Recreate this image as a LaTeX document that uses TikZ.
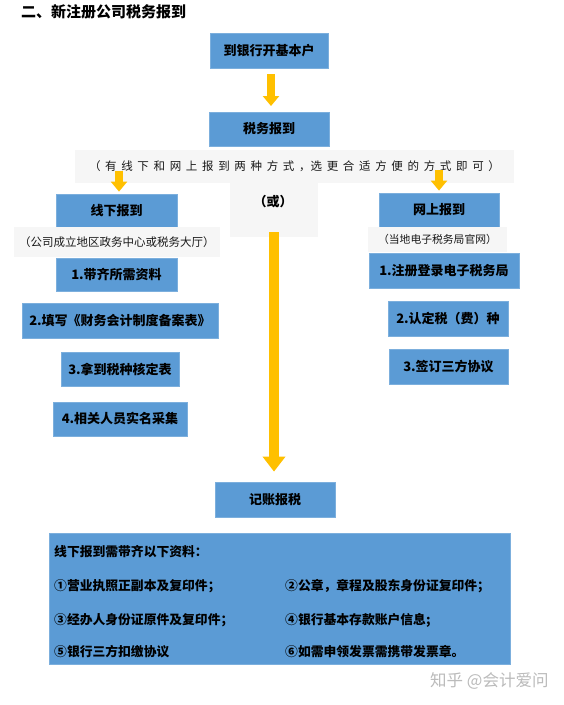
\documentclass[tikz,border=0pt]{standalone}
\usepackage{fontspec}
\setmainfont{Noto Sans CJK SC}
\usetikzlibrary{arrows.meta,calc}
\definecolor{boxblue}{HTML}{5B9BD5}
\definecolor{arrowgold}{HTML}{FFC000}
\definecolor{bannergrey}{HTML}{F6F6F6}
\definecolor{wmgrey}{HTML}{BBBBBB}
\begin{document}
\begin{tikzpicture}[x=1pt,y=-1pt,
  bluebox/.style={fill=boxblue, draw=boxblue!80!white, line width=0.8pt, inner sep=0pt,
    font=\bfseries\fontsize{13}{13}\selectfont, text=black},
  banner/.style={fill=bannergrey, inner sep=0pt, font=\fontsize{11.5}{11.5}\selectfont, text=black!90},
  smallarrow/.style={draw=arrowgold, line width=8pt, -{Triangle[width=16pt,length=10pt]}},
  bigarrow/.style={draw=arrowgold, line width=10pt, -{Triangle[width=22pt,length=15pt]}},
  listtext/.style={anchor=west, inner sep=0pt, font=\bfseries\fontsize{12.8}{12.8}\selectfont, text=black},
]
\fill[white] (0,0) rectangle (564,705);
\useasboundingbox (0,0) rectangle (564,705);

% title
\node[anchor=west, inner sep=0pt, font=\bfseries\fontsize{15}{15}\selectfont] (title) at (21,12) {二、新注册公司税务报到};

% main chain
\node[bluebox, minimum width=118pt, minimum height=35pt] (b1) at (269,50.5) {到银行开基本户};
\node[bluebox, minimum width=120pt, minimum height=34pt] (b2) at (269,129) {税务报到};

% banners
\node[banner, minimum width=439pt, minimum height=33pt] (ban1) at (294.5,166.5)
  {\makebox[411pt][s]{（ 有 线 下 和 网 上 报 到 两 种 方 式 ，选 更 合 适 方 便 的 方 式 即 可 ）}};
\node[banner, minimum width=88pt, minimum height=54pt] (banor) at (274,210) {};
\node[inner sep=0pt, font=\bfseries\fontsize{13}{13}\selectfont] (ortext) at (273,202) {（或）};

% branch headers
\node[bluebox, minimum width=121pt, minimum height=33pt] (ofl) at (116.5,210.5) {线下报到};
\node[bluebox, minimum width=120pt, minimum height=34pt] (onl) at (439,210) {网上报到};

\node[banner, minimum width=206pt, minimum height=30pt, font=\fontsize{11.5}{11.5}\selectfont] (banL) at (117,242) {（公司成立地区政务中心或税务大厅）};
\node[banner, minimum width=139pt, minimum height=25pt, font=\fontsize{10.8}{10.8}\selectfont] (banR) at (437.5,239.5) {（当地电子税务局官网）};

% left steps
\node[bluebox, minimum width=121pt, minimum height=33pt] (l1) at (116.5,274.5) {1.带齐所需资料};
\node[bluebox, minimum width=196pt, minimum height=35pt] (l2) at (120,320.5) {2.填写《财务会计制度备案表》};
\node[bluebox, minimum width=118pt, minimum height=34pt] (l3) at (120,369) {3.拿到税种核定表};
\node[bluebox, minimum width=134pt, minimum height=34pt] (l4) at (120,419) {4.相关人员实名采集};

% right steps
\node[bluebox, minimum width=150pt, minimum height=35pt] (r1) at (444,270.5) {1.注册登录电子税务局};
\node[bluebox, minimum width=120pt, minimum height=35pt] (r2) at (448,318.5) {2.认定税（费）种};
\node[bluebox, minimum width=119pt, minimum height=35pt] (r3) at (448.5,366.5) {3.签订三方协议};

% bottom
\node[bluebox, minimum width=120pt, minimum height=35pt] (b3) at (275,499.5) {记账报税};
\node[fill=boxblue, draw=boxblue!80!white, line width=0.8pt, minimum width=461pt, minimum height=131pt, inner sep=0pt] (big) at (279.5,598.5) {};

\node[listtext] (t0) at (54,552) {线下报到需带齐以下资料：};
\node[listtext] (t1) at (54,586) {①营业执照正副本及复印件；};
\node[listtext] (t2) at (285,586) {②公章，章程及股东身份证复印件；};
\node[listtext] (t3) at (54,620) {③经办人身份证原件及复印件；};
\node[listtext] (t4) at (285,620) {④银行基本存款账户信息;};
\node[listtext] (t5) at (54,652) {⑤银行三方扣缴协议};
\node[listtext] (t6) at (285,652) {⑥如需申领发票需携带发票章。};

% watermark
\node[anchor=west, inner sep=0pt, text=wmgrey, font=\fontsize{16.5}{16.5}\selectfont] (wm) at (430,681) {知乎 @会计爱问};

% arrows
\coordinate (a1s) at (271,74);
\coordinate (a1e) at (271,106);
\draw[smallarrow] (a1s) -- (a1e);
\coordinate (aL) at (119,171);
\draw[smallarrow, shorten >=2pt] (aL) -- (aL |- ofl.north);
\coordinate (aR) at (439,170);
\draw[smallarrow, shorten >=2pt] (aR) -- (aR |- onl.north);
\coordinate (aM) at (274,232);
\draw[bigarrow, shorten >=10pt] (aM) -- (aM |- b3.north);
\end{tikzpicture}
\end{document}
